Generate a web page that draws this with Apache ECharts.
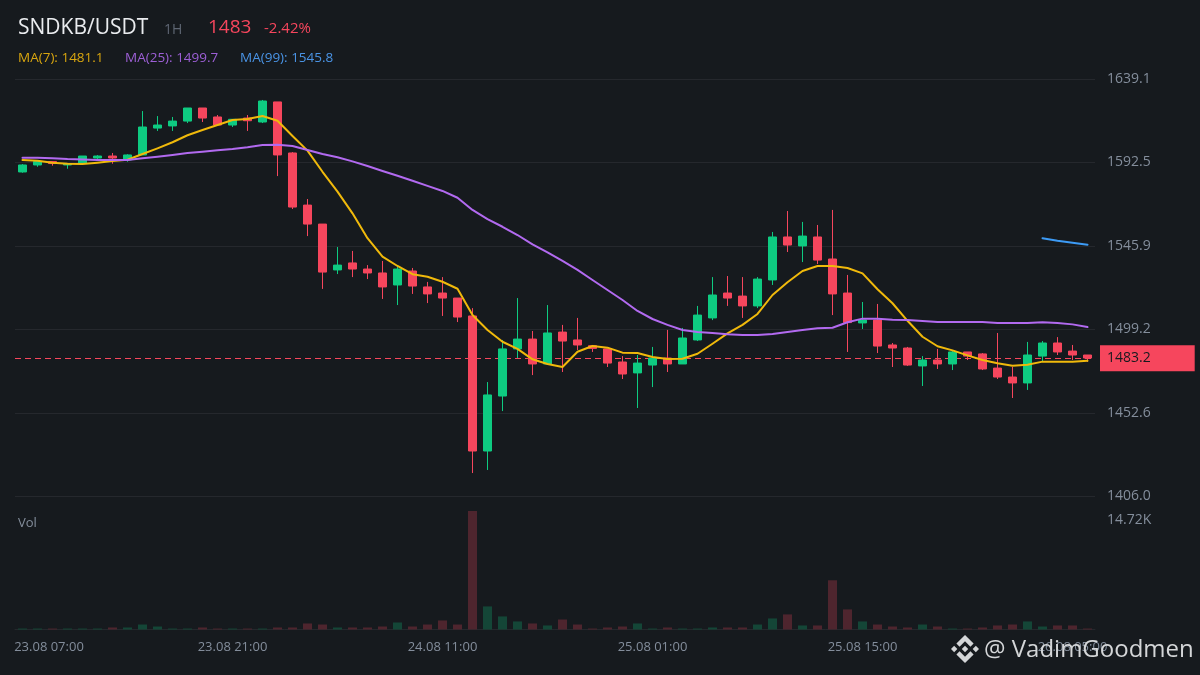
<!DOCTYPE html>
<html><head><meta charset="utf-8">
<style>html,body{margin:0;padding:0;background:#161A1E}#c{width:1200px;height:675px}</style>
<script src="https://cdn.jsdelivr.net/npm/echarts@6/dist/echarts.min.js"></script>
</head><body><div id="c"></div>
<script>
const times = ["23.08 07:00","23.08 08:00","23.08 09:00","23.08 10:00","23.08 11:00","23.08 12:00","23.08 13:00","23.08 14:00","23.08 15:00","23.08 16:00","23.08 17:00","23.08 18:00","23.08 19:00","23.08 20:00","23.08 21:00","23.08 22:00","23.08 23:00",
"24.08 00:00","24.08 01:00","24.08 02:00","24.08 03:00","24.08 04:00","24.08 05:00","24.08 06:00","24.08 07:00","24.08 08:00","24.08 09:00","24.08 10:00","24.08 11:00","24.08 12:00","24.08 13:00","24.08 14:00","24.08 15:00","24.08 16:00","24.08 17:00","24.08 18:00","24.08 19:00","24.08 20:00","24.08 21:00","24.08 22:00","24.08 23:00",
"25.08 00:00","25.08 01:00","25.08 02:00","25.08 03:00","25.08 04:00","25.08 05:00","25.08 06:00","25.08 07:00","25.08 08:00","25.08 09:00","25.08 10:00","25.08 11:00","25.08 12:00","25.08 13:00","25.08 14:00","25.08 15:00","25.08 16:00","25.08 17:00","25.08 18:00","25.08 19:00","25.08 20:00","25.08 21:00","25.08 22:00","25.08 23:00",
"26.08 00:00","26.08 01:00","26.08 02:00","26.08 03:00","26.08 04:00","26.08 05:00","26.08 06:00"];
// open, close, low, high
const candles = [
[1587.2,1591.1,1586.8,1591.6],[1591.1,1593.0,1590.1,1593.0],[1593.0,1591.9,1590.7,1593.3],[1591.1,1591.9,1589.0,1592.2],
[1592.2,1596.1,1592.2,1596.1],[1595.0,1596.1,1594.4,1596.6],[1596.1,1595.0,1591.8,1597.8],[1593.9,1596.7,1592.9,1597.1],
[1596.7,1612.3,1596.7,1621.2],[1611.7,1613.4,1610.1,1618.4],[1612.9,1615.6,1610.1,1617.9],[1615.6,1622.9,1614.5,1622.9],
[1622.9,1617.3,1615.1,1622.9],[1617.9,1613.4,1613.4,1619.0],[1613.4,1616.6,1612.3,1616.6],[1617.3,1615.8,1610.1,1619.0],
[1615.1,1626.8,1614.5,1627.4],[1626.3,1596.7,1584.9,1626.3],[1597.8,1567.6,1566.5,1598.3],[1568.7,1558.1,1551.4,1572.1],
[1558.1,1531.3,1521.9,1558.1],[1532.5,1535.2,1530.2,1545.3],[1536.4,1533.0,1528.5,1543.1],[1533.0,1530.8,1527.4,1535.2],
[1530.8,1523.0,1516.3,1537.5],[1524.1,1533.0,1512.9,1534.7],[1531.9,1523.5,1519.1,1533.6],[1523.0,1519.1,1514.0,1525.8],
[1519.6,1516.8,1506.8,1528.5],[1516.8,1506.2,1503.4,1516.8],[1506.8,1431.4,1419.1,1511.2],[1431.4,1462.7,1420.8,1469.9],
[1462.1,1488.4,1453.7,1493.4],[1488.4,1493.9,1483.3,1516.8],[1493.9,1480.0,1473.8,1498.4],[1480.0,1497.3,1480.0,1512.9],
[1497.8,1492.8,1475.5,1501.8],[1493.4,1490.6,1487.8,1505.7],[1490.2,1488.7,1486.7,1490.6],[1488.4,1480.5,1478.3,1488.4],
[1481.1,1474.4,1471.6,1484.4],[1475.0,1480.5,1455.4,1485.0],[1479.4,1483.3,1467.1,1489.5],[1483.3,1480.0,1475.5,1499.0],
[1480.0,1494.5,1480.0,1500.1],[1493.4,1507.3,1492.8,1512.4],[1505.7,1518.5,1504.5,1528.5],[1519.6,1516.8,1512.4,1529.1],
[1517.9,1512.4,1505.7,1528.5],[1512.4,1527.4,1511.2,1528.5],[1526.9,1550.9,1524.1,1553.7],[1550.9,1546.4,1542.5,1565.4],
[1545.9,1551.4,1536.9,1559.3],[1550.9,1538.0,1535.8,1557.6],[1538.6,1519.1,1507.3,1566.0],[1519.6,1503.1,1486.7,1529.7],
[1502.9,1504.5,1499.5,1514.6],[1504.5,1490.0,1486.1,1513.5],[1490.6,1488.9,1478.3,1491.7],[1488.9,1479.4,1478.9,1489.5],
[1478.9,1482.2,1467.7,1484.4],[1482.2,1480.0,1477.2,1488.4],[1480.0,1486.7,1476.6,1487.8],[1486.7,1484.4,1482.2,1486.7],
[1485.6,1477.2,1476.6,1486.1],[1477.7,1472.7,1471.6,1497.3],[1472.7,1469.4,1461.0,1478.3],[1469.4,1485.0,1465.5,1492.3],
[1484.4,1491.7,1481.6,1492.8],[1491.7,1486.7,1485.0,1495.0],[1487.2,1485.0,1482.2,1490.6],[1485.0,1483.3,1481.1,1485.0]];
const ma7 = [1593.9,1593.5,1592.4,1591.8,1591.6,1592.4,1593.3,1594.0,1597.2,1600.4,1603.8,1607.7,1610.6,1613.4,1616.2,1616.8,1618.4,1615.8,1607.3,1599.1,1587.3,1576.2,1564.1,1550.2,1539.9,1534.7,1530.1,1528.7,1525.9,1522.0,1507.3,1499.0,1492.4,1488.4,1482.6,1480.0,1478.3,1486.8,1490.0,1489.1,1486.3,1486.1,1483.9,1482.8,1482.9,1485.7,1491.3,1497.1,1501.8,1507.9,1518.5,1525.6,1531.9,1534.7,1534.7,1533.6,1530.6,1521.7,1513.9,1504.1,1495.2,1489.9,1487.6,1484.8,1482.2,1480.4,1479.0,1479.6,1481.3,1481.3,1481.3,1481.8];
const ma25 = [1595.2,1595.2,1594.8,1594.4,1594.2,1593.9,1593.9,1593.9,1594.8,1595.7,1596.7,1597.8,1598.5,1599.3,1600.0,1601.0,1602.2,1602.4,1601.7,1599.5,1597.2,1595.4,1593.1,1590.5,1587.7,1585.1,1582.3,1579.4,1576.6,1572.8,1566.0,1560.9,1556.6,1552.0,1546.8,1542.3,1537.5,1532.5,1526.9,1521.3,1515.7,1509.6,1505.1,1501.8,1499.0,1497.8,1497.3,1496.6,1496.2,1496.2,1496.7,1497.8,1499.0,1499.9,1500.2,1503.3,1505.3,1505.3,1504.7,1504.5,1504.0,1503.4,1503.4,1503.4,1503.4,1502.9,1502.9,1502.9,1503.3,1502.9,1502.1,1500.6];
const ma99Tail = [1550.2,1548.8,1547.7,1546.6];
const volumes = [.13,.13,.13,.13,.13,.13,.27,.27,.67,.40,.13,.13,.27,.13,.13,.13,.13,.27,.27,.81,.67,.27,.27,.27,.40,.94,.40,.67,1.21,.67,15.86,3.09,1.75,1.08,.81,.54,1.34,.67,.13,.27,.40,.81,.13,.27,.13,.13,.27,.27,.27,.67,1.48,2.02,.54,.54,6.59,2.69,1.08,.67,.40,.27,.67,.40,.13,.13,.27,.54,.67,1.08,.40,.54,.54,.13];
const priceTicks = [1406.0,1452.62,1499.24,1545.86,1592.48,1639.1];
const volTicks = [14.72];
const lastPrice = 1483.2;

const UP='#0ECB81', DOWN='#F6465D', UPV='#144637', DOWNV='#4E252E', BG='#161A1E', GRID='#25282D', TXT='#848E9C';
const FONT='"Open Sans","Noto Sans",sans-serif';
const ma99 = times.map((_,i)=> i<times.length-ma99Tail.length ? null : ma99Tail[i-(times.length-ma99Tail.length)]);
const lineS=(name,data,color)=>({name,type:'line',data,xAxisIndex:0,yAxisIndex:0,showSymbol:false,symbol:'none',smooth:false,z:5,silent:true,
  lineStyle:{color,width:2,cap:'round',join:'round'}});
const txt=(x,y,text,fill,size)=>({type:'text',x,y,z:20,silent:true,style:{text,fill,font:size+'px '+FONT,verticalAlign:'middle',align:'left'}});
const LOGO=[
 [[38.73,53.2],[63.32,28.62],[87.92,53.22],[102.22,38.91],[63.32,0],[24.43,38.9]],
 [[0,63.31],[14.3,49],[28.61,63.31],[14.3,77.61]],
 [[38.73,73.41],[63.32,98],[87.92,73.4],[102.23,87.69],[63.33,126.6],[24.42,87.72]],
 [[98,63.31],[112.3,49],[126.61,63.3],[112.3,77.62]],
 [[77.83,63.3],[63.32,48.78],[48.81,63.28],[63.32,77.8]]
];
const logo=LOGO.map(pts=>({type:'polygon',z:30,silent:true,shape:{points:pts.map(p=>[951+p[0]*0.2212,635+p[1]*0.2212])},style:{fill:'#D4D6D8'}}));

const chart=echarts.init(document.getElementById('c'),null,{renderer:'canvas'});
chart.setOption({
  animation:false,backgroundColor:BG,
  grid:[{left:15,width:1080,top:79,height:417.5},{left:15,width:1080,top:511,height:118.5}],
  xAxis:[
    {type:'category',gridIndex:0,data:times,boundaryGap:true,axisLine:{show:false},axisTick:{show:false},axisLabel:{show:false},splitLine:{show:false}},
    {type:'category',gridIndex:1,data:times,boundaryGap:true,axisLine:{show:true,lineStyle:{color:GRID,width:1}},axisTick:{show:false},splitLine:{show:false},
     axisLabel:{interval:13,color:TXT,fontFamily:FONT,fontSize:13,margin:11,
       formatter:(v,i)=>i===0?'{first|'+v+'}':v,
       rich:{first:{padding:[0,0,0,53],color:TXT,fontFamily:FONT,fontSize:13}}}}
  ],
  yAxis:[
    {type:'value',gridIndex:0,position:'right',min:priceTicks[0],max:priceTicks[priceTicks.length-1],scale:true,
     axisLine:{show:false},axisTick:{show:false,customValues:priceTicks},
     splitLine:{show:true,lineStyle:{color:GRID,width:1}},
     axisLabel:{customValues:priceTicks,color:TXT,fontFamily:FONT,fontSize:14,margin:12,padding:[2,0,0,0],formatter:v=>v.toFixed(1)}},
    {type:'value',gridIndex:1,position:'right',min:0,max:volumes.reduce((a,b)=>Math.max(a,b),0),
     axisLine:{show:false},axisTick:{show:false,customValues:volTicks},splitLine:{show:false},
     axisLabel:{customValues:volTicks,color:TXT,fontFamily:FONT,fontSize:14,margin:12,padding:[2,0,0,0],formatter:v=>v.toFixed(2)+'K'}}
  ],
  series:[
    {name:'K',type:'candlestick',xAxisIndex:0,yAxisIndex:0,data:candles,barWidth:8,z:3,silent:true,clip:false,
     itemStyle:{color:UP,color0:DOWN,borderColor:UP,borderColor0:DOWN,borderWidth:1},
     markLine:{silent:true,symbol:'none',z:1,lineStyle:{color:DOWN,type:[6,4],width:1},
       label:{show:true,position:'end',distance:5,formatter:p=>p.value.toFixed(1),color:BG,backgroundColor:DOWN,fontFamily:FONT,fontSize:14,lineHeight:16,padding:[5,44,5,7]},
       data:[{yAxis:lastPrice}]}},
    lineS('MA(7)',ma7,'#F0B90B'),
    lineS('MA(25)',ma25,'#B26AF0'),
    lineS('MA(99)',ma99,'#3D9BF5'),
    {name:'Vol',type:'bar',xAxisIndex:1,yAxisIndex:1,barWidth:9,silent:true,
     data:volumes.map((v,i)=>({value:v,itemStyle:{color:candles[i][1]>=candles[i][0]?UPV:DOWNV}}))}
  ],
  graphic:[
    txt(18,28.5,'SNDKB/USDT','#EAECEF',21),
    txt(164,30,'1H','#5E6673',14),
    txt(208,28,'1483',DOWN,19),
    txt(264,29,'-2.42%',DOWN,15),
    txt(18,58,'MA(7): 1481.1','#D9A60F',13.5),
    txt(125,58,'MA(25): 1499.7','#9D5FD6',13.5),
    txt(240,58,'MA(99): 1545.8','#4A94E6',13.5),
    txt(18,523,'Vol',TXT,13),
    ...logo,
    {type:'text',x:984,y:650,z:30,silent:true,style:{text:'@ VadimGoodmen',fill:'#D4D6D8',font:'24px '+FONT,verticalAlign:'middle',align:'left'}}
  ]
});
</script></body></html>
